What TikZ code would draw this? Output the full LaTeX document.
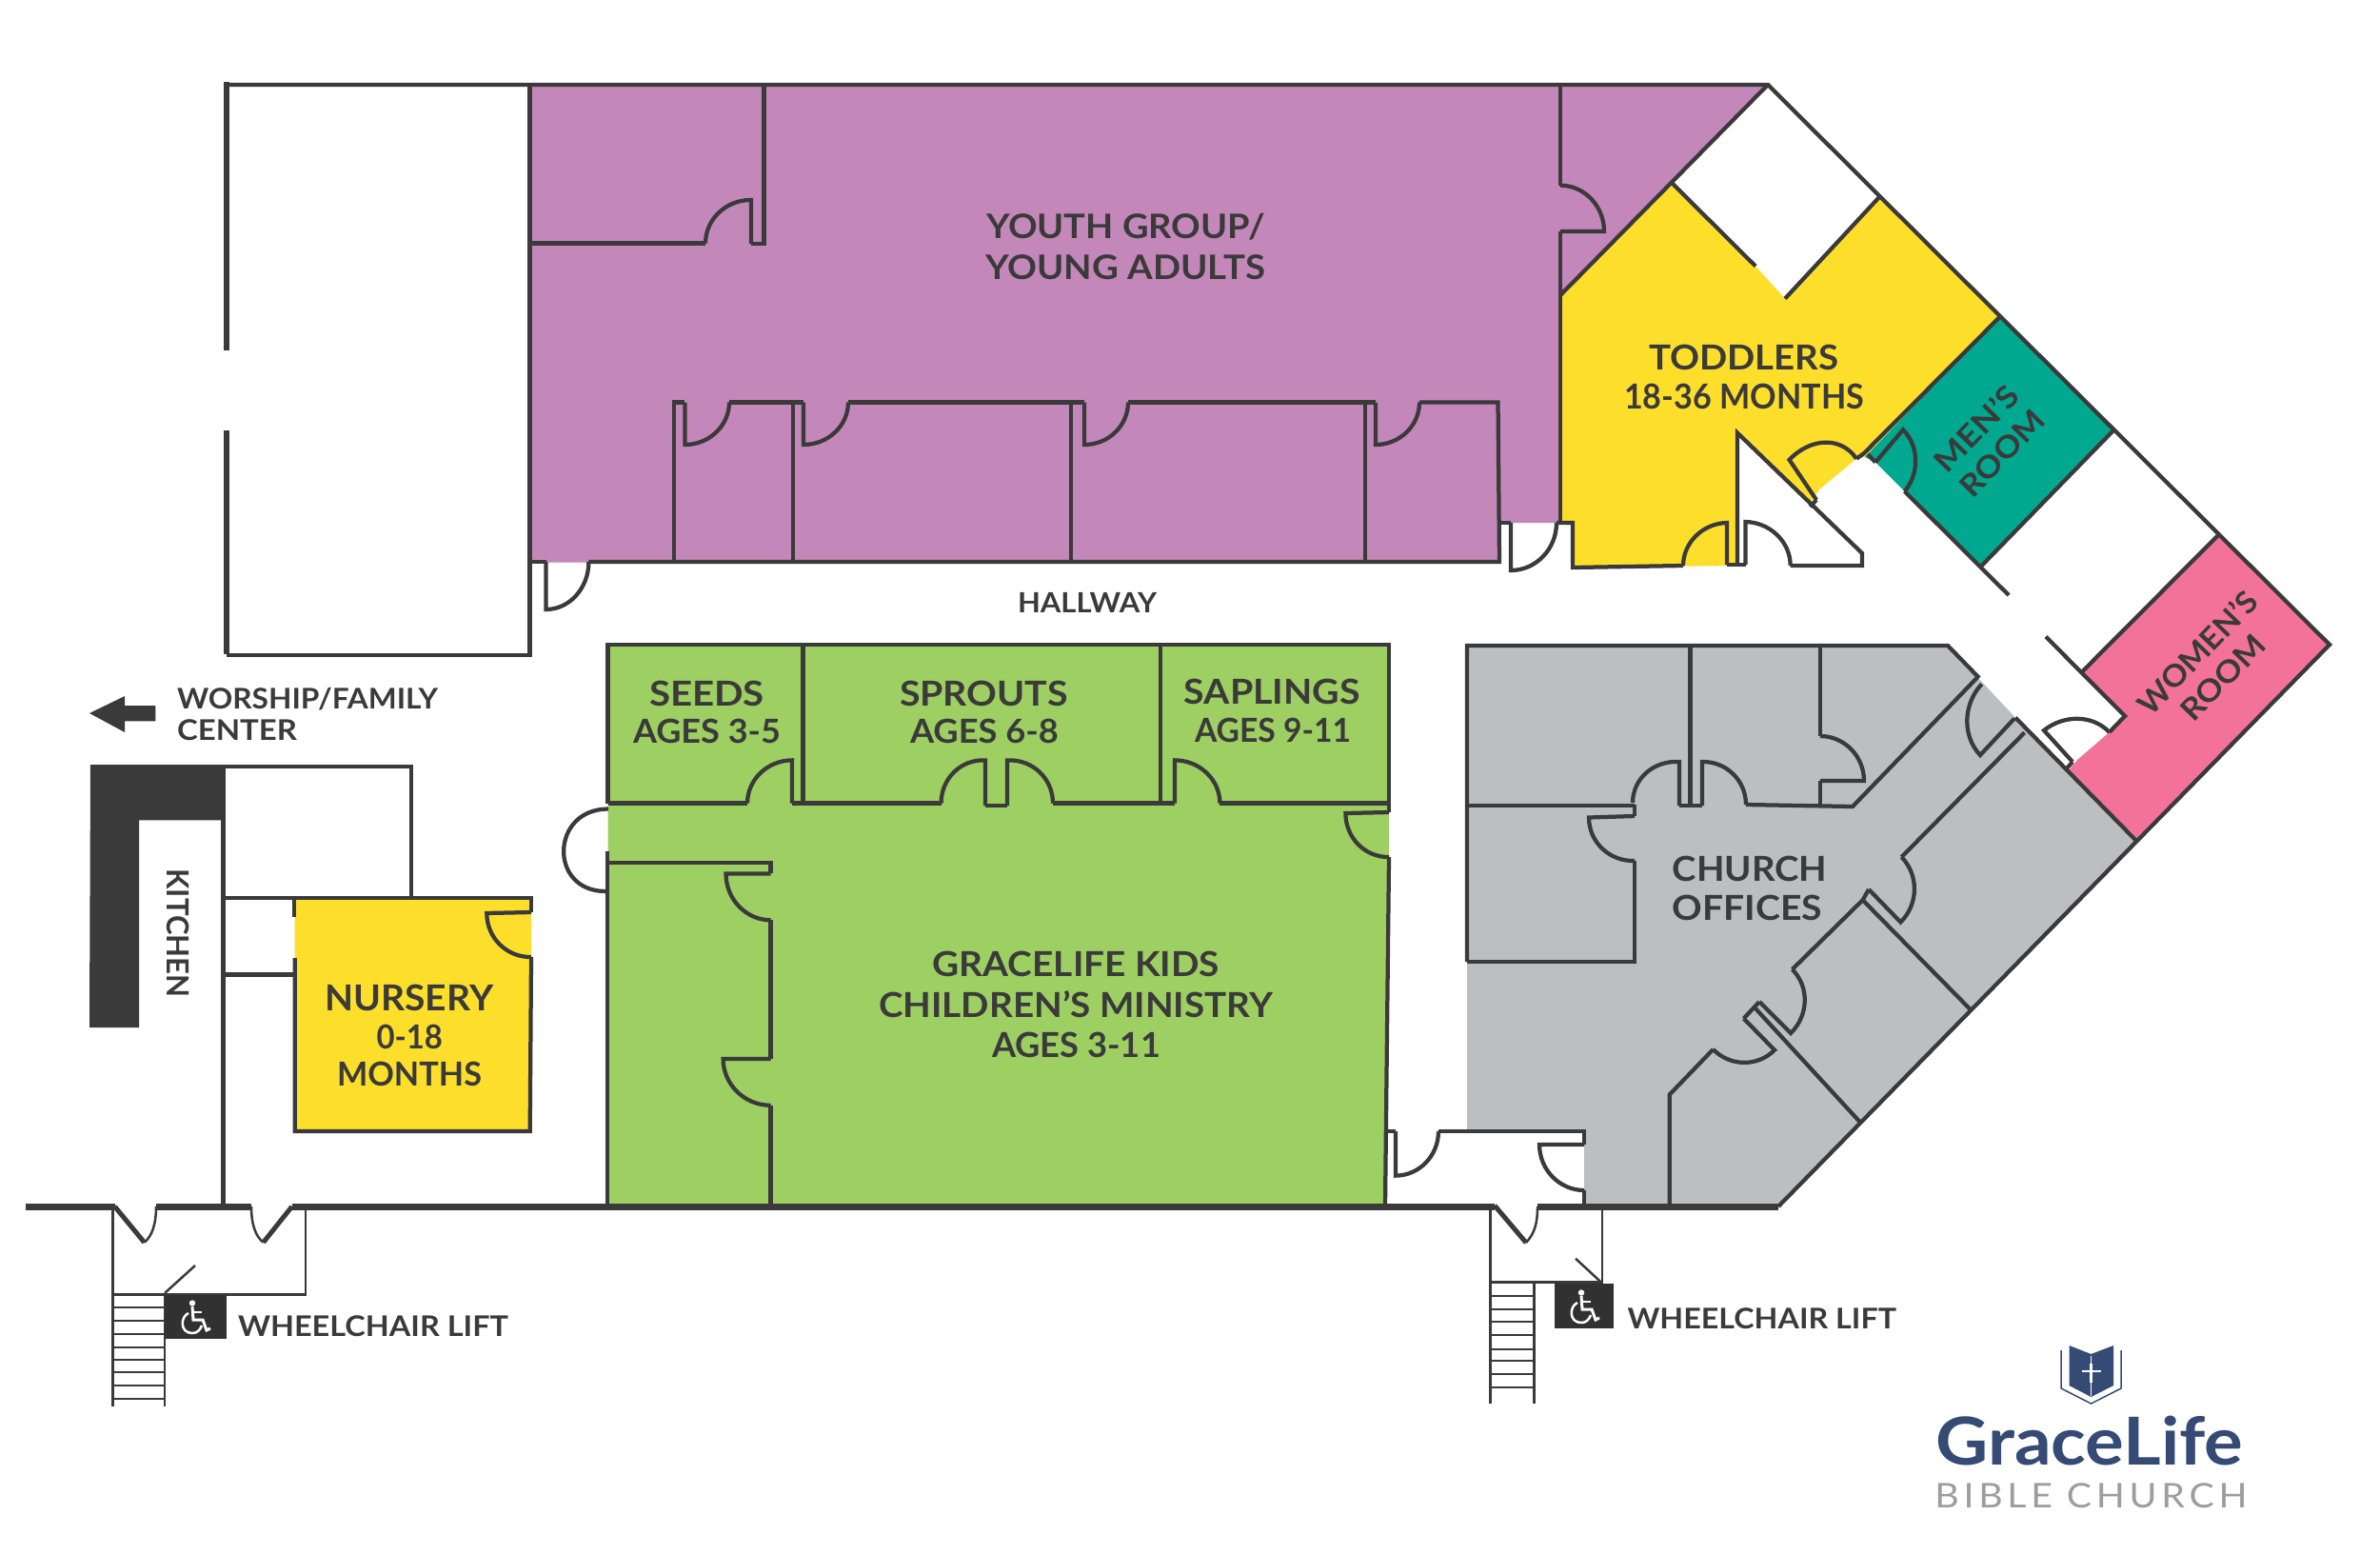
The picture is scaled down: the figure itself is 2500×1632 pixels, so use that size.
\documentclass[tikz,border=0pt]{standalone}
\usepackage{fontspec}
\usepackage{graphicx}
\setmainfont{Lato}
\usetikzlibrary{calc}
\newdimen\pxu \pxu=0.02cm
\definecolor{ink}{HTML}{3B3A3A}
\definecolor{purp}{HTML}{C487BA}
\definecolor{yell}{HTML}{FDDF2B}
\definecolor{gree}{HTML}{9DCF62}
\definecolor{teal2}{HTML}{00A88F}
\definecolor{pink2}{HTML}{F37299}
\definecolor{gray2}{HTML}{BCBEC0}
\definecolor{logob}{HTML}{354A74}
\definecolor{logog}{HTML}{9D9D9D}
\tikzset{
  wall/.style={draw=ink,line width=0.085cm,line join=miter},
  thinw/.style={draw=ink,line width=0.05cm},
  heavy/.style={draw=ink,line width=0.125cm},
  midw/.style={draw=ink,line width=0.1cm},
  tread/.style={draw=ink,line width=0.04cm},
  lab/.style={text=ink,inner sep=0pt,outer sep=0pt},
}
\newcommand\dr[3]{\draw[wall] (#1) .. controls ($(#1)+0.55*(#3)-0.55*(#2)$) and ($(#3)+0.55*(#1)-0.55*(#2)$) .. (#3) -- (#2);}
\newcommand\lbl[6]{\pgfmathsetmacro\fsz{#5/0.7165*0.5669}%
  \node[lab,anchor=base west,yshift=-0.03cm] (#1) at (#2,#3) {\fontsize{\fsz pt}{\fsz pt}\selectfont\bfseries\resizebox{#4\pxu}{\height}{#6}};}
\newcommand\rlbl[7]{\pgfmathsetmacro\fsz{#6/0.7165*0.5669}%
  \node[lab,anchor=center,rotate=#4] (#1) at (#2,#3) {\fontsize{\fsz pt}{\fsz pt}\selectfont\bfseries\resizebox{#5\pxu}{\height}{#7}};}
\newcommand\wicon[2]{\begin{scope}[shift={(#1,#2)}]
  \fill[white] (13,3.5) circle[radius=3.2];
  \draw[white,line width=0.06cm] (13,7)--(14,21)--(24,21)--(28,32)--(32,30);
  \draw[white,line width=0.05cm] (13.5,13)--(23,13);
  \draw[white,line width=0.05cm] (9,14) .. controls (0,18) and (0,35) .. (13,35) .. controls (18,35) and (21,32) .. (23,27);
\end{scope}}
\begin{document}
\begin{tikzpicture}[x=0.02cm,y=-0.02cm]
\useasboundingbox (0,0) rectangle (2500,1632);
\fill[white] (0,0) rectangle (2500,1632);
% ---- room fills
\fill[purp] (556,89)--(1857,89)--(1639,310)--(1639,549)--(1575,549)--(1574,590.5)--(556,590.5)--cycle;
\fill[yell] (1639,310)--(1756,192)--(1844,279.5)--(1875,313.6)--(1974,207)--(2100.8,332.6)--(1959,480)--(1950,481.7)--(1911,514)--(1902,527)--(1825,454.6)--(1825,594)--(1653,596)--(1653,549)--(1639,549)--cycle;
\fill[teal2] (2100.8,332.6)--(2220.7,451.3)--(2081.6,594)--(2000.6,516)--(1970,485.5)--(1959,480)--cycle;
\fill[pink2] (2187.5,705)--(2331,561)--(2447,677)--(2246,882)--(2173,809)--(2182,798)--(2215.6,769)--(2232,752)--cycle;
\fill[gray2] (1541,678)--(2046,678)--(2117,753.6)--(2245,884)--(1868,1267)--(1664,1267)--(1664,1188)--(1541,1188)--cycle;
\fill[gree] (638.5,677)--(1459,677)--(1459,900)--(1455,1267)--(638.5,1267)--cycle;
\fill[yell] (309.5,943)--(558,943)--(558,1005)--(556.7,1188)--(309.8,1188)--cycle;
% kitchen block
\fill[ink] (95,803)--(234,803)--(234,861.4)--(146,861.4)--(146,1079)--(94,1079)--cycle;
% ---- outer walls
\draw[wall,line width=0.11cm] (238,368)--(238,86.5);
\draw[wall,line width=0.11cm] (238,452)--(238,687);
\draw[wall] (238,89)--(1857,89)--(2447,677)--(1868,1267);
\draw[wall] (238,688)--(556.6,688)--(556.6,89);
\draw[wall] (1857,89)--(1639,310);
% white wedge
\draw[wall] (1756,192)--(1844,279.5);
\draw[wall] (1875,313.6)--(1974,207);
% purple rooms
\draw[wall] (556,255.6)--(741,255.6);
\dr{741,255.6}{789,256}{789,210}
\draw[wall] (789,256)--(802.5,256)--(802.5,89);
\draw[wall] (708,590)--(708,422.5)--(719.4,422.5);
\dr{766,422.5}{719.4,422.5}{719.4,467}
\draw[wall] (766,422.5)--(844,422.5);
\dr{891,422.5}{844,422.5}{844,467}
\draw[wall] (891,422.5)--(1139,422.5);
\dr{1185,422.5}{1139,422.5}{1139,467}
\draw[wall] (1185,422.5)--(1445,422.5);
\dr{1491,422.5}{1445,422.5}{1445,467}
\draw[wall] (1491,422.5)--(1573.5,422.5)--(1575,590)--(618.4,590);
\draw[wall] (832.7,422.5)--(832.7,590);
\draw[wall] (1125,422.5)--(1125,590);
\draw[wall] (1434,422.5)--(1434,590);
\draw[wall] (556.6,590)--(573.5,590);
\dr{618.4,590}{573.5,590}{573.5,640}
% hallway door at end of purple
\draw[wall] (1575,549)--(1587,549);
\dr{1635,549}{1587,549}{1587,599}
\draw[wall] (1635,549)--(1652,549)--(1652,596)--(1768,594);
% purple right wall
\draw[wall] (1639,89)--(1639,194.7);
\dr{1639,194.7}{1639,243}{1685,243}
\draw[wall] (1639,243)--(1639,549);
% toddlers / triangle
\dr{1768,594}{1814,593}{1814,549}
\draw[wall] (1814,593)--(1833.5,593);
\draw[wall] (1825,593)--(1825,454.6)--(1956,581)--(1956,594)--(1880.7,594);
\dr{1880.7,594}{1833.5,593}{1833.5,548}
\dr{1950,481.7}{1908,525}{1879.5,482.8}
\draw[wall] (1908,525)--(1901,532);
\draw[wall] (1950,481.7)--(1958,476)--(2100.8,332.6);
% men's
\dr{2000.6,516}{1970,485.5}{1999,451.3}
\draw[wall] (1970,485.5)--(1962,477);
\draw[wall] (2000.6,516)--(2110,625);
\draw[wall] (2220.7,451.3)--(2081.6,594);
% women's
\draw[wall] (2331,561)--(2187.5,705);
\draw[wall] (2149,668.7)--(2232,752)--(2215.6,769);
\dr{2215.6,769}{2177,800}{2147,767}
\draw[wall] (2177,800)--(2170,808);
% gray offices
\draw[wall] (1541,1010)--(1541,678)--(2046,678)--(2079,712);
\draw[wall] (2117,753.6)--(2245,884);
\draw[wall] (1541,845.7)--(1717,845.7);
\dr{1715,843}{1764,846}{1764,800}
\draw[wall] (1764,846)--(1788,846);
\dr{1834,845}{1788,846}{1788,800}
\draw[wall] (1775.5,678)--(1775.5,846);
\draw[wall] (1834,845)--(1946,847)--(2076.5,712);
\draw[wall] (1912,678)--(1912,773);
\dr{1912,773}{1912,820}{1958,820}
\draw[wall] (1912,820)--(1912,845);
\draw[wall] (1717,845)--(1717,857);
\dr{1717,904}{1717,857}{1669,858.5}
\draw[wall] (1717,904)--(1717,1010)--(1541,1010);
\dr{2081.6,718.4}{2116,754.5}{2080,793}
\draw[wall] (2126.5,769.4)--(1997.4,900);
\dr{1997.4,900}{1963,934}{1996.4,968.4}
\draw[wall] (1963,934)--(1956.6,945.2)--(2070,1060.4);
\draw[wall] (1956.6,945.2)--(1882.6,1018);
\dr{1882.6,1018}{1848,1052}{1881,1085}
\draw[wall] (1848,1052)--(1831.6,1069.6);
\dr{1799.5,1102}{1831.6,1069.6}{1864,1102.7}
\draw[wall] (1799.5,1102)--(1753.6,1149.6)--(1753.6,1267);
\draw[wall] (1843,1058)--(1954,1178.6);
% passage
\draw[wall] (1458,1188)--(1466,1188);
\dr{1511,1188}{1466,1188}{1466,1234.6}
\draw[wall] (1511,1188)--(1664,1188)--(1664,1202);
\dr{1664,1250}{1664,1202}{1617,1202}
\draw[wall] (1664,1250)--(1664,1267);
% green rooms
\draw[wall] (638.5,843.6)--(638.5,677)--(1459,677)--(1459,853);
\dr{1459,900}{1459,853}{1413.4,854}
\draw[wall] (1459,900)--(1455,1267);
\draw[wall] (638.5,843.6)--(785,843.6);
\dr{785,843.6}{832,843.6}{832,798.4}
\draw[wall] (832,843.6)--(843.4,843.6)--(843.4,677);
\draw[wall] (843.4,843.6)--(988.6,843.6);
\dr{988.6,843.6}{1035,846}{1035,798.4}
\draw[wall] (1035,846)--(1058,846);
\dr{1106,843.6}{1058,846}{1058,798.4}
\draw[wall] (1106,843.6)--(1234,843.6);
\draw[wall] (1219,677)--(1219,843.6);
\dr{1281.4,843.6}{1234,843.6}{1234,798.4}
\draw[wall] (1281.4,843.6)--(1459,843.6);
\draw[wall] (639,849.5) .. controls (578,849.5) and (576,936) .. (636,936);
\draw[wall] (638,894)--(638,1267);
\draw[wall] (638,906)--(809.5,906)--(809.5,917.4);
\dr{809.5,966.3}{809.5,917.4}{762.5,917.4}
\draw[wall] (809.5,966.3)--(809.5,1112);
\dr{809.5,1160.8}{809.5,1112}{759.6,1112}
\draw[wall] (809.5,1160.8)--(809.5,1267);
% nursery area
\draw[wall] (309.3,963)--(309.3,943)--(558,943)--(558,958);
\dr{558,1005}{558,958}{511.3,959}
\draw[wall] (558,1005)--(556.7,1188)--(309.8,1188)--(309.8,1006);
\draw[wall] (234,805)--(432,805)--(432,943);
\draw[wall] (234,943)--(309,943);
\draw[wall] (234,1023.5)--(309,1023.5);
\draw[midw] (234.8,803)--(234.8,1267);
% main south wall and entry doors
\draw[heavy] (27,1267.5)--(120.5,1267.5);
\draw[heavy] (164,1267.5)--(264,1267.5);
\draw[heavy] (306.7,1267.5)--(1570,1267.5);
\draw[heavy] (1615,1267.5)--(1868,1267.5);
\draw[midw] (120.5,1267)--(151.6,1304.7);
\draw[thinw] (151.6,1304.7) .. controls (160,1298) and (164,1285) .. (164,1267);
\draw[midw] (276.6,1304.7)--(306.7,1267);
\draw[thinw] (264,1267) .. controls (264,1285) and (268,1298) .. (276.6,1304.7);
\draw[midw] (1570,1266)--(1603,1305);
\draw[thinw] (1603,1305) .. controls (1612,1295) and (1615,1285) .. (1615,1267);
% left vestibule and stairs
\draw[thinw] (118.5,1267)--(118.5,1476.5);
\draw[thinw] (173,1359)--(173,1476.5);
\draw[thinw] (118.5,1359.5)--(321,1359.5)--(321,1267);
\draw[thinw] (173,1358)--(205,1329);
\foreach \ty in {1372.5,1386.6,1400.7,1415,1427.8,1441,1455,1468.5}{\draw[tread] (118.5,\ty)--(173,\ty);}
\fill[ink!85!black] (173,1360) rectangle (238,1406);
\wicon{189}{1365}
% right vestibule and stairs
\draw[thinw] (1565.7,1267)--(1565.7,1474);
\draw[thinw] (1611.6,1347)--(1611.6,1474);
\draw[thinw] (1565.7,1346.7)--(1683,1346.7)--(1683,1267);
\draw[thinw] (1655,1321.7)--(1682,1346.7);
\foreach \ty in {1360.7,1375,1388,1402,1416.7,1429,1442.7,1456.7}{\draw[tread] (1567,\ty)--(1611,\ty);}
\fill[ink!85!black] (1633,1348) rectangle (1695,1395);
\wicon{1648}{1354}
% arrow
\fill[ink] (94,749)--(131,731)--(131,741)--(163.4,741)--(163.4,757.3)--(131,757.3)--(131,769)--cycle;
% ---- labels
\lbl{youth1}{1036}{249.4}{293}{25.5}{YOUTH GROUP/}
\lbl{youth2}{1035}{292}{294}{25.5}{YOUNG ADULTS}
\lbl{hall}{1069}{641.7}{146}{21}{HALLWAY}
\lbl{tod1}{1732}{387}{199.5}{26}{TODDLERS}
\lbl{tod2}{1706}{427.5}{252}{26}{18-36 MONTHS}
\lbl{seeds1}{682}{740.4}{121}{26}{SEEDS}
\lbl{seeds2}{665}{779}{155}{25}{AGES 3-5}
\lbl{spr1}{945}{740.4}{177}{26}{SPROUTS}
\lbl{spr2}{956}{779}{156}{25}{AGES 6-8}
\lbl{sap1}{1243.7}{738}{185}{26}{SAPLINGS}
\lbl{sap2}{1255}{777.7}{164}{25}{AGES 9-11}
\lbl{kids1}{979.6}{1024.4}{301.5}{26}{GRACELIFE KIDS}
\lbl{kids2}{923}{1066.7}{414}{26}{CHILDREN’S MINISTRY}
\lbl{kids3}{1042}{1109.4}{177}{26}{AGES 3-11}
\lbl{off1}{1756.6}{923.6}{162.5}{26}{CHURCH}
\lbl{off2}{1756.6}{965}{157.5}{26}{OFFICES}
\lbl{nur1}{341.4}{1060}{177}{27}{NURSERY}
\lbl{nur2}{395.5}{1100}{69.5}{25}{0-18}
\lbl{nur3}{354}{1139.4}{152}{25}{MONTHS}
\lbl{wor1}{186}{743}{274}{21.5}{WORSHIP/FAMILY}
\lbl{wor2}{186}{776}{126}{21.5}{CENTER}
\lbl{lift1}{250}{1402}{284}{21.5}{WHEELCHAIR LIFT}
\lbl{lift2}{1709.5}{1394}{282.5}{21.5}{WHEELCHAIR LIFT}
\rlbl{kit}{187}{980}{-90}{135}{23}{KITCHEN}
\rlbl{men1}{2076}{450}{46}{112}{23}{MEN’S}
\rlbl{men2}{2103}{476}{46}{112}{23}{ROOM}
\rlbl{wom1}{2308}{685}{46}{166}{23}{WOMEN’S}
\rlbl{wom2}{2335}{711.5}{46}{112}{23}{ROOM}
% ---- logo
\draw[logob,line width=0.03cm] (2165,1418)--(2165,1458)--(2196.5,1474)--(2228,1458)--(2228,1418);
\fill[logob] (2173.5,1413)--(2196.5,1422)--(2220,1413)--(2220,1455)--(2196.5,1467)--(2173.5,1455)--cycle;
\draw[white,line width=0.02cm] (2196.5,1424)--(2196.5,1466);
\draw[white,line width=0.06cm] (2196.5,1432)--(2196.5,1452);
\draw[white,line width=0.05cm] (2187,1440)--(2206.6,1440);
\node[inner sep=0pt,anchor=base west,text=logob] (logo1) at (2033,1538.5) {\fontsize{39.5pt}{39.5pt}\selectfont\bfseries\resizebox{323\pxu}{\height}{GraceLife}};
\node[inner sep=0pt,anchor=base west,text=logog] (logo2) at (2032,1583) {\fontsize{20.3pt}{20.3pt}\selectfont\addfontfeature{LetterSpace=12}\resizebox{328\pxu}{\height}{BIBLE CHURCH}};
\end{tikzpicture}
\end{document}
